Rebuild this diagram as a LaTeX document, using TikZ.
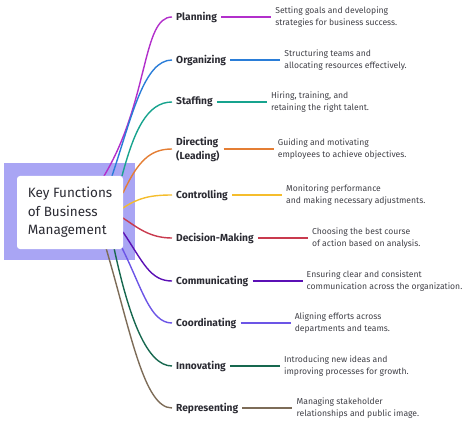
\documentclass[tikz,border=0pt]{standalone}
\usepackage{fontspec}
\setmainfont{Fira Sans}
\usetikzlibrary{positioning,backgrounds}

\definecolor{lavender}{HTML}{A9A5F4}
\definecolor{ink}{HTML}{2B2B33}
\definecolor{cplan}{HTML}{B22FCB}
\definecolor{corg}{HTML}{2A7DD8}
\definecolor{cstaff}{HTML}{17A38E}
\definecolor{cdir}{HTML}{E47E34}
\definecolor{cctrl}{HTML}{F5BD2C}
\definecolor{cdec}{HTML}{C93A4E}
\definecolor{ccomm}{HTML}{5B10B5}
\definecolor{ccoord}{HTML}{6C55E6}
\definecolor{cinno}{HTML}{17684F}
\definecolor{crep}{HTML}{7D6C58}

\begin{document}
\begin{tikzpicture}[
    x=1pt, y=-1pt,
    node distance=50pt,
    core/.style={fill=white, rounded corners=3pt, align=left, minimum width=106pt, minimum height=73pt, text=ink, font=\fontsize{13.5}{18.5}\selectfont},
    topic/.style={anchor=west, inner sep=4pt, align=left, text=ink, font=\fontsize{10.2}{14}\selectfont\bfseries},
    note/.style={inner sep=4pt, align=left, text=ink!90, font=\fontsize{8.6}{12}\selectfont},
    branch/.style={line width=1.4pt}
]
\useasboundingbox (0,0) rectangle (474,425);

\node[core] (center) at (70,212.5) {Key Functions\\of Business\\Management};

\node[topic] (plan) at (172,17) {Planning};
\node[topic] (org) at (172,60) {Organizing};
\node[topic] (staff) at (172,102) {Staffing};
\node[topic] (dir) at (172,149) {Directing\\(Leading)};
\node[topic] (ctrl) at (172,195) {Controlling};
\node[topic] (dec) at (172,238) {Decision-Making};
\node[topic] (comm) at (172,281) {Communicating};
\node[topic] (coord) at (172,323) {Coordinating};
\node[topic] (inno) at (172,366) {Innovating};
\node[topic] (rep) at (172,408) {Representing};

\node[note, right=of plan] (planN) {Setting goals and developing\\strategies for business success.};
\node[note, right=of org] (orgN) {Structuring teams and\\allocating resources effectively.};
\node[note, right=of staff] (staffN) {Hiring, training, and\\retaining the right talent.};
\node[note, right=of dir] (dirN) {Guiding and motivating\\employees to achieve objectives.};
\node[note, right=of ctrl] (ctrlN) {Monitoring performance\\and making necessary adjustments.};
\node[note, right=of dec] (decN) {Choosing the best course\\of action based on analysis.};
\node[note, right=of comm] (commN) {Ensuring clear and consistent\\communication across the organization.};
\node[note, right=of coord] (coordN) {Aligning efforts across\\departments and teams.};
\node[note, right=of inno] (innoN) {Introducing new ideas and\\improving processes for growth.};
\node[note, right=of rep] (repN) {Managing stakeholder\\relationships and public image.};

\coordinate (s1) at (104,176);
\coordinate (s2) at (112,176);
\coordinate (s3) at (122,176);
\coordinate (s4) at (123,193);
\coordinate (s5) at (123,208);
\coordinate (s6) at (123,218);
\coordinate (s7) at (123,232);
\coordinate (s8) at (122,248);
\coordinate (s9) at (114,248);
\coordinate (s10) at (106,248);

\begin{scope}[on background layer]
\fill[lavender] (4,163) rectangle (135,260);
\draw[branch, cplan] (s1) .. controls +(45,-75) and +(-30,0) .. (plan.west);
\draw[branch, corg] (s2) .. controls +(20,-60) and +(-28,0) .. (org.west);
\draw[branch, cstaff] (s3) .. controls +(12,-45) and +(-25,0) .. (staff.west);
\draw[branch, cdir] (s4) .. controls +(15,-32) and +(-22,0) .. (dir.west);
\draw[branch, cctrl] (s5) .. controls +(15,-10) and +(-22,0) .. (ctrl.west);
\draw[branch, cdec] (s6) .. controls +(15,10) and +(-22,0) .. (dec.west);
\draw[branch, ccomm] (s7) .. controls +(20,30) and +(-22,0) .. (comm.west);
\draw[branch, ccoord] (s8) .. controls +(20,40) and +(-22,0) .. (coord.west);
\draw[branch, cinno] (s9) .. controls +(15,70) and +(-25,0) .. (inno.west);
\draw[branch, crep] (s10) .. controls +(25,85) and +(-28,0) .. (rep.west);
\end{scope}

\draw[branch, cplan] (plan.east) -- (planN.west);
\draw[branch, corg] (org.east) -- (orgN.west);
\draw[branch, cstaff] (staff.east) -- (staffN.west);
\draw[branch, cdir] (dir.east) -- (dirN.west);
\draw[branch, cctrl] (ctrl.east) -- (ctrlN.west);
\draw[branch, cdec] (dec.east) -- (decN.west);
\draw[branch, ccomm] (comm.east) -- (commN.west);
\draw[branch, ccoord] (coord.east) -- (coordN.west);
\draw[branch, cinno] (inno.east) -- (innoN.west);
\draw[branch, crep] (rep.east) -- (repN.west);
\end{tikzpicture}
\end{document}
